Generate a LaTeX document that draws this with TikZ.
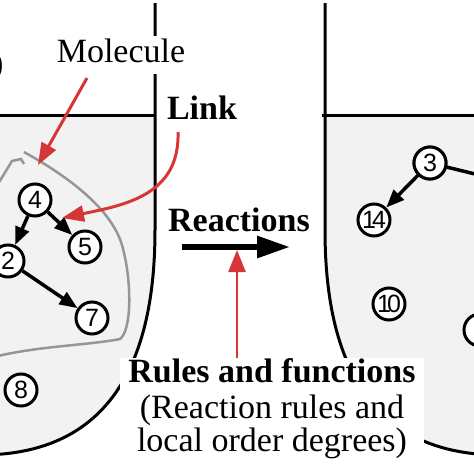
\documentclass[tikz,border=0pt]{standalone}
\usepackage{fontspec}
\setmainfont{Liberation Serif}
\newfontfamily\numfont{Liberation Sans}
\usetikzlibrary{arrows.meta}
\definecolor{linkred}{RGB}{214,54,54}
\definecolor{soupgray}{RGB}{242,242,242}
\definecolor{molgray}{RGB}{150,150,150}

\begin{document}
\begin{tikzpicture}
        [x=1pt, y=-1pt,
        atom/.style={circle, draw, fill=white, line width=3pt, minimum size=32pt, inner sep=0pt, font=\numfont\fontsize{25}{25}\selectfont},
        bond/.style={line width=3.5pt, -{Triangle[length=18pt,width=14pt]}},
        wall/.style={line width=3pt},
        note/.style={line width=3pt, linkred, -{Triangle[length=22pt,width=16pt]}},
        bigtext/.style={font=\fontsize{34}{34}\selectfont, anchor=base}]

        \useasboundingbox (0,0) rectangle (474,474);
        \clip (0,0) rectangle (474,474);

        % Beaker contents
        \fill[soupgray] (-20,115) -- (155,115) -- (155,230) .. controls (155,400) and (80,455) .. (-20,455) -- cycle;
        \fill[soupgray] (500,115) -- (325,115) -- (325,230) .. controls (325,400) and (400,455) .. (500,455) -- cycle;

        % Beaker walls and surfaces
        \draw[wall] (155,3) -- (155,230) .. controls (155,400) and (80,455) .. (-20,455);
        \draw[wall] (325,3) -- (325,230) .. controls (325,400) and (400,455) .. (500,455);
        \draw[wall] (0,115) -- (155,115);
        \draw[wall] (322,115) -- (474,115);

        % Molecule outline
        \draw[molgray, line width=2.5pt] (-2,184) -- (12,161) -- (21,159) -- (24,164);
        \draw[molgray, line width=2.5pt] (24,152) .. controls (60,172) and (110,205) .. (122,245)
            .. controls (132,280) and (132,330) .. (120,339) .. controls (90,345) and (40,346) .. (-2,356);

        % Atoms, left beaker
        \node[atom] (n4) at (35,200) {4};
        \node[atom] (n5) at (85,247) {5};
        \node[atom] (n2) at (8,261) {2};
        \node[atom] (n7) at (92,318) {7};
        \node[atom] (n8) at (21,390) {8};

        % Atoms, right beaker
        \node[atom] (n3) at (430,163) {3};
        \node[atom] (n14) at (374,220) {1\kern-4pt4};
        \node[atom] (n10) at (389,304) {1\kern-4pt0};
        \node[atom] (nr) at (480,330) {};
        \coordinate (out3) at (520,185);

        % Links
        \draw[bond] (n4) -- (n2);
        \draw[bond] (n4) -- (n5);
        \draw[bond] (n2) -- (n7);
        \draw[bond] (n3) -- (n14);
        \draw[line width=3.5pt] (n3) -- (out3);
        \node[atom] at (n3) {3};

        % Labels
        \node[bigtext, anchor=base east] (stamp) at (7,74) {0)};
        \node[bigtext, fill=white, inner sep=1pt, text height=25pt, text depth=11pt] (molecule) at (121,62) {Molecule};
        \node[bigtext, font=\fontsize{34}{34}\selectfont\bfseries] (link) at (202,119) {Link};
        \node[bigtext, font=\fontsize{34}{34}\selectfont\bfseries] (reactions) at (239,231) {Reactions};

        % Reaction arrow
        \coordinate (ra) at (182,247);
        \coordinate (rb) at (290,247);
        \draw[line width=6pt, -{Triangle[length=33pt,width=21pt]}] (ra) -- (rb);

        % Pointers
        \coordinate (moltip) at (38,165);
        \coordinate (molstart) at (87,78);
        \coordinate (linktip) at (62,218);
        \coordinate (linkstart) at (178,132);
        \coordinate (ruletip) at (237,250);
        \coordinate (rulestart) at (237,365);
        \draw[note] (molstart) -- (moltip);
        \draw[note] (linkstart) .. controls (180,195) and (125,205) .. (linktip);
        \draw[note, line width=2.5pt, -{Triangle[length=22pt,width=17pt]}] (rulestart) -- (ruletip);

        % Rules box
        \node[fill=white, align=center, inner xsep=8pt, inner ysep=1pt, font=\fontsize{34}{33}\selectfont] (rules) at (272,409)
            {\textbf{Rules and functions}\\[3pt](Reaction rules and\\local order degrees)};

    \end{tikzpicture}
\end{document}
